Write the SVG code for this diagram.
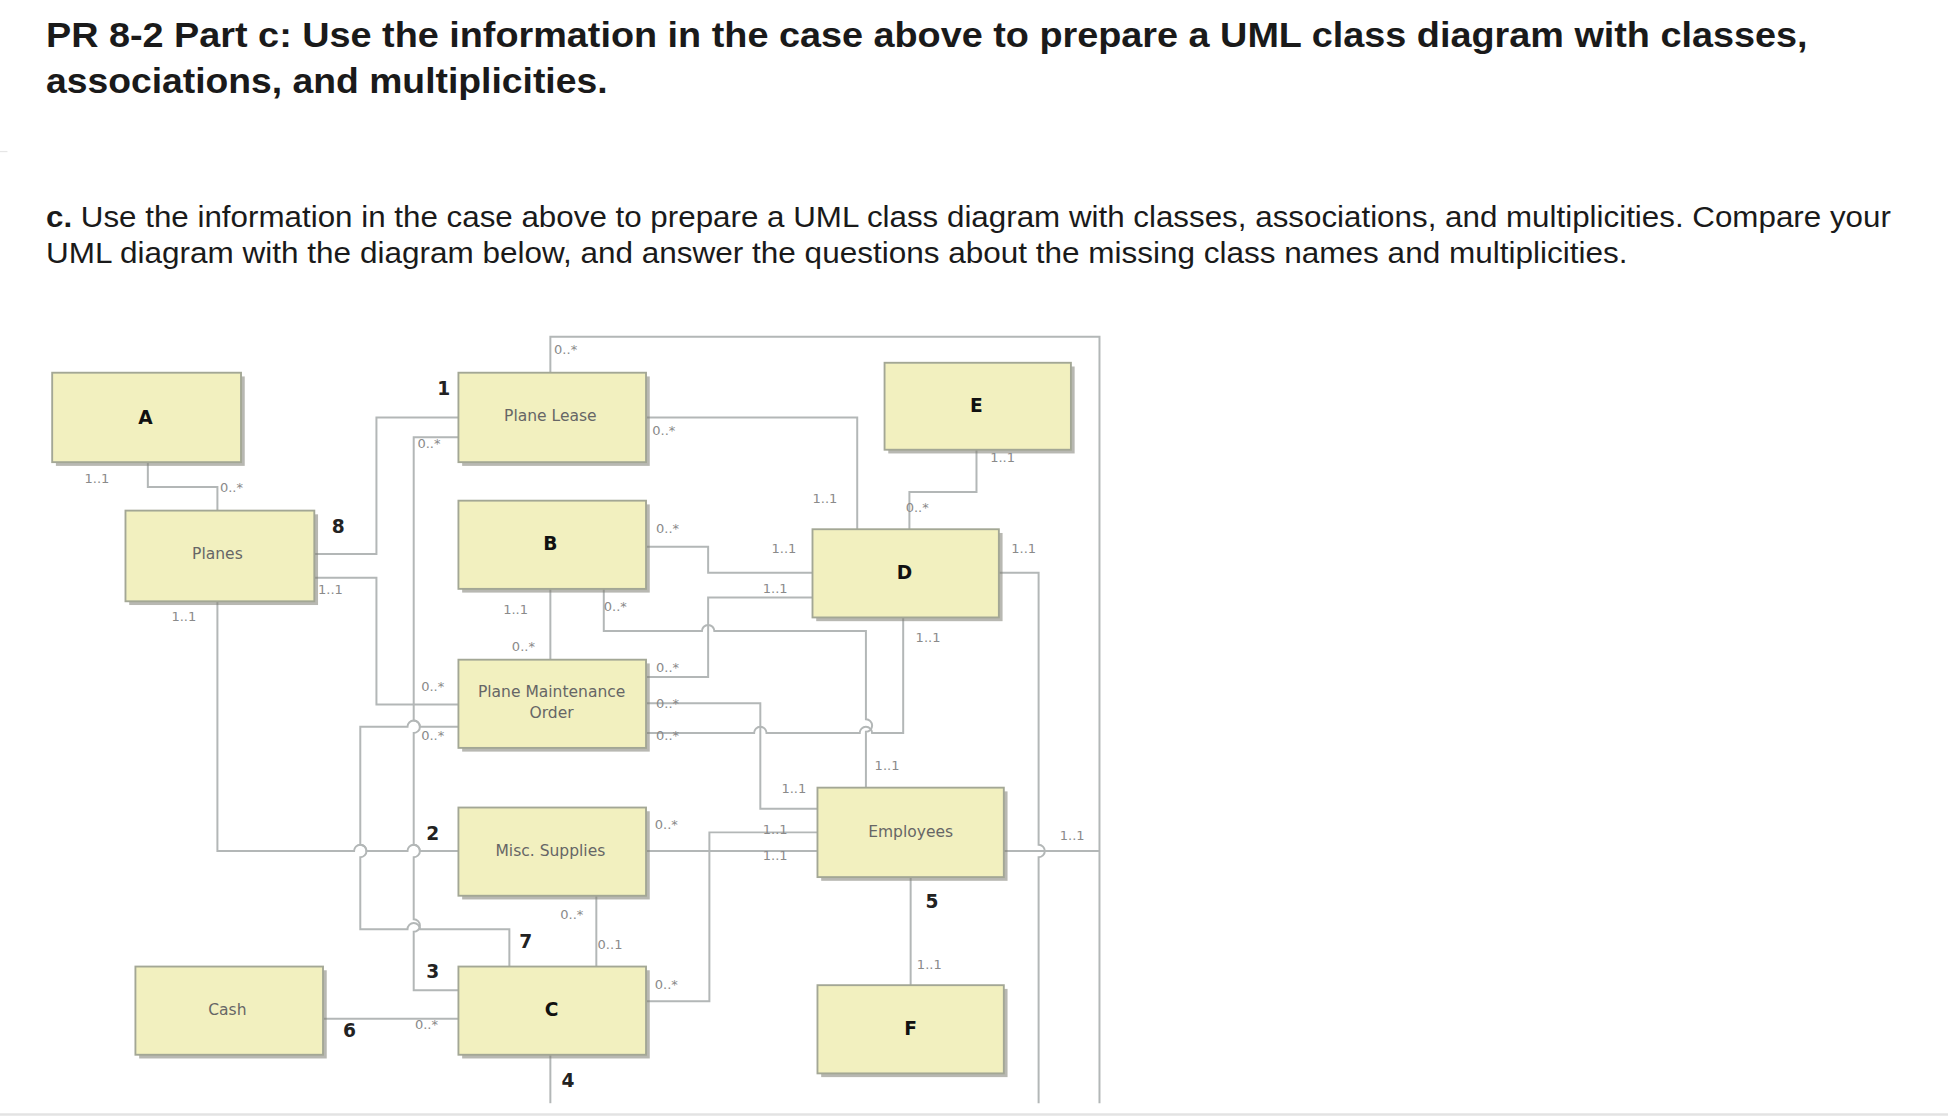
<svg xmlns="http://www.w3.org/2000/svg" width="1948" height="1120" viewBox="0 0 1948 1120">
<style>
.t{font-family:"Liberation Sans",Arial,sans-serif;fill:#1a1a1a}
.box{fill:#f2f0bf;stroke:#a3a795;stroke-width:1.5}
.sh{fill:#7d7d72;opacity:.55}
.c{fill:none;stroke:#b3b7b7;stroke-width:1.6}
.m{font-family:"DejaVu Sans",sans-serif;font-size:10.5px;fill:#8a8a8a}
.n{font-family:"DejaVu Sans",sans-serif;font-size:12.5px;fill:#666;text-anchor:middle}
.l{font-family:"DejaVu Sans",sans-serif;font-size:15px;font-weight:bold;fill:#111;text-anchor:middle}
.b{font-family:"DejaVu Sans",sans-serif;font-size:15px;font-weight:bold;fill:#222}
</style>
<rect width="1948" height="1120" fill="#fff"/>
<g transform="scale(1.24235)">
<text class="t" x="37" y="38" font-size="28.5" font-weight="bold" textLength="1418" lengthAdjust="spacingAndGlyphs">PR 8-2 Part c: Use the information in the case above to prepare a UML class diagram with classes,</text>
<text class="t" x="37" y="75" font-size="28.5" font-weight="bold" textLength="452" lengthAdjust="spacingAndGlyphs">associations, and multiplicities.</text>
<line x1="0" y1="122" x2="6" y2="122" stroke="#e6e6e6"/>
<text class="t" x="37" y="183" font-size="23.5" textLength="1485" lengthAdjust="spacingAndGlyphs"><tspan font-weight="bold">c.</tspan> Use the information in the case above to prepare a UML class diagram with classes, associations, and multiplicities. Compare your</text>
<text class="t" x="37" y="212" font-size="23.5" textLength="1273" lengthAdjust="spacingAndGlyphs">UML diagram with the diagram below, and answer the questions about the missing class names and multiplicities.</text>
<line x1="0" y1="897" x2="1568" y2="897" stroke="#e3e3e3" stroke-width="2"/>

<g id="connectors">
<path class="c" d="M119 372V392H175V411"/>
<path class="c" d="M253 446H303V336H369"/>
<path class="c" d="M253 465H303V567H369"/>
<path class="c" d="M443 300V271H885V888"/>
<path class="c" d="M369 352H333V580a5 5 0 0 1 0 10V680a5 5 0 0 1 0 10V740a5 5 0 0 1 0 10V797H369"/>
<path class="c" d="M369 585H338a5 5 0 0 0 -10 0H290V680a5 5 0 0 1 0 10V748H328a5 5 0 0 1 10 0H410V778"/>
<path class="c" d="M175 484V685H285a5 5 0 0 1 10 0H328a5 5 0 0 1 10 0H369"/>
<path class="c" d="M520 336H690V426"/>
<path class="c" d="M520 440H570V461H654"/>
<path class="c" d="M486 474V508H565a5 5 0 0 1 10 0H697V579a5 5 0 0 1 0 10V634"/>
<path class="c" d="M520 545H570V481H654"/>
<path class="c" d="M520 566H612V651H658"/>
<path class="c" d="M520 590H607a5 5 0 0 1 10 0H692a5 5 0 0 1 10 0H727V497"/>
<path class="c" d="M786 362V396H732V426"/>
<path class="c" d="M804 461H836V680a5 5 0 0 1 0 10V888"/>
<path class="c" d="M808 685H885"/>
<path class="c" d="M443 474V531"/>
<path class="c" d="M520 685H658"/>
<path class="c" d="M520 806H571V670H658"/>
<path class="c" d="M480 721V778"/>
<path class="c" d="M733 706V793"/>
<path class="c" d="M260 820H369"/>
<path class="c" d="M443 849V888"/>
</g>

<g id="A"><rect class="sh" x="45" y="303" width="152" height="72"/><rect class="box" x="42" y="300" width="152" height="72"/><text class="l" x="117" y="341">A</text></g>
<g id="PlaneLease"><rect class="sh" x="372" y="303" width="151" height="72"/><rect class="box" x="369" y="300" width="151" height="72"/><text class="n" x="443" y="339">Plane Lease</text></g>
<g id="E"><rect class="sh" x="715" y="295" width="150" height="70"/><rect class="box" x="712" y="292" width="150" height="70"/><text class="l" x="786" y="332">E</text></g>
<g id="Planes"><rect class="sh" x="104" y="414" width="152" height="73"/><rect class="box" x="101" y="411" width="152" height="73"/><text class="n" x="175" y="450">Planes</text></g>
<g id="B"><rect class="sh" x="372" y="406" width="151" height="71"/><rect class="box" x="369" y="403" width="151" height="71"/><text class="l" x="443" y="443">B</text></g>
<g id="D"><rect class="sh" x="657" y="429" width="150" height="71"/><rect class="box" x="654" y="426" width="150" height="71"/><text class="l" x="728" y="466">D</text></g>
<g id="PMO"><rect class="sh" x="372" y="534" width="151" height="71"/><rect class="box" x="369" y="531" width="151" height="71"/><text class="n" x="444" y="561">Plane Maintenance</text><text class="n" x="444" y="578">Order</text></g>
<g id="Employees"><rect class="sh" x="661" y="637" width="150" height="72"/><rect class="box" x="658" y="634" width="150" height="72"/><text class="n" x="733" y="674">Employees</text></g>
<g id="Misc"><rect class="sh" x="372" y="653" width="151" height="71"/><rect class="box" x="369" y="650" width="151" height="71"/><text class="n" x="443" y="689">Misc. Supplies</text></g>
<g id="Cash"><rect class="sh" x="112" y="781" width="151" height="71"/><rect class="box" x="109" y="778" width="151" height="71"/><text class="n" x="183" y="817">Cash</text></g>
<g id="C"><rect class="sh" x="372" y="781" width="151" height="71"/><rect class="box" x="369" y="778" width="151" height="71"/><text class="l" x="444" y="818">C</text></g>
<g id="F"><rect class="sh" x="661" y="796" width="150" height="71"/><rect class="box" x="658" y="793" width="150" height="71"/><text class="l" x="733" y="833">F</text></g>

<g id="labels">
<text class="m" x="68" y="389">1..1</text><text class="m" x="177" y="396">0..*</text>
<text class="b" x="267" y="429">8</text><text class="b" x="352" y="318">1</text>
<text class="m" x="256" y="478">1..1</text><text class="m" x="336" y="361">0..*</text>
<text class="m" x="446" y="285">0..*</text><text class="m" x="525" y="350">0..*</text>
<text class="m" x="654" y="405">1..1</text><text class="m" x="729" y="412">0..*</text>
<text class="m" x="797" y="372">1..1</text><text class="m" x="814" y="445">1..1</text>
<text class="m" x="528" y="429">0..*</text><text class="m" x="621" y="445">1..1</text>
<text class="m" x="614" y="477">1..1</text><text class="m" x="486" y="492">0..*</text>
<text class="m" x="405" y="494">1..1</text><text class="m" x="412" y="524">0..*</text>
<text class="m" x="737" y="517">1..1</text>
<text class="m" x="339" y="556">0..*</text><text class="m" x="339" y="596">0..*</text>
<text class="m" x="528" y="541">0..*</text><text class="m" x="528" y="570">0..*</text><text class="m" x="528" y="596">0..*</text>
<text class="m" x="629" y="638">1..1</text><text class="m" x="704" y="620">1..1</text>
<text class="b" x="343" y="676">2</text><text class="m" x="138" y="500">1..1</text>
<text class="m" x="527" y="667">0..*</text><text class="m" x="614" y="671">1..1</text><text class="m" x="614" y="692">1..1</text>
<text class="m" x="853" y="676">1..1</text>
<text class="m" x="451" y="740">0..*</text><text class="m" x="481" y="764">0..1</text>
<text class="b" x="418" y="763">7</text><text class="b" x="343" y="787">3</text>
<text class="b" x="745" y="731">5</text><text class="m" x="738" y="780">1..1</text>
<text class="m" x="527" y="796">0..*</text>
<text class="b" x="276" y="835">6</text><text class="m" x="334" y="828">0..*</text>
<text class="b" x="452" y="875">4</text>
</g>
</g>
</svg>
